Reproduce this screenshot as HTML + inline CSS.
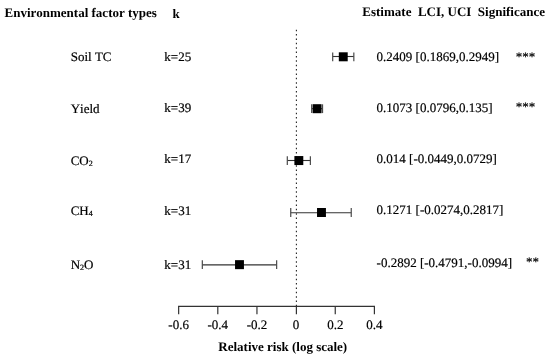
<!DOCTYPE html><html><head><meta charset="utf-8"><style>html,body{margin:0;padding:0;background:#fff;}svg{display:block;}text{font-family:"Liberation Serif",serif;fill:#000;stroke:#000;stroke-width:0.2px;text-rendering:geometricPrecision;font-variant-ligatures:none;font-kerning:none;stroke-linejoin:round;}text.b{stroke:none;}</style></head><body>
<svg width="550" height="360" viewBox="0 0 550 360">
<rect width="550" height="360" fill="#fff"/>
<text x="4.5" y="17.4" font-size="13" font-weight="bold" class="b">Environmental factor types</text>
<text x="172.6" y="17.6" font-size="13" font-weight="bold" class="b">k</text>
<text x="362.3" y="16.1" font-size="13" font-weight="bold" class="b" style="white-space:pre">Estimate  LCI, UCI  Significance</text>
<line x1="296.4" y1="29.75" x2="296.4" y2="306" stroke="#222" stroke-width="1.1" stroke-dasharray="1.5 2.867"/>
<line x1="178.05000000000004" y1="306.4" x2="375.00000000000006" y2="306.4" stroke="#333" stroke-width="1.2"/>
<line x1="178.65" y1="306.4" x2="178.65" y2="314.3" stroke="#333" stroke-width="1.2"/>
<text x="178.65" y="329.2" font-size="13" text-anchor="middle">-0.6</text>
<line x1="217.80" y1="306.4" x2="217.80" y2="314.3" stroke="#333" stroke-width="1.2"/>
<text x="217.80" y="329.2" font-size="13" text-anchor="middle">-0.4</text>
<line x1="256.95" y1="306.4" x2="256.95" y2="314.3" stroke="#333" stroke-width="1.2"/>
<text x="256.95" y="329.2" font-size="13" text-anchor="middle">-0.2</text>
<line x1="296.40" y1="306.4" x2="296.40" y2="314.3" stroke="#333" stroke-width="1.2"/>
<text x="296.10" y="329.2" font-size="13" text-anchor="middle">0</text>
<line x1="335.25" y1="306.4" x2="335.25" y2="314.3" stroke="#333" stroke-width="1.2"/>
<text x="335.25" y="329.2" font-size="13" text-anchor="middle">0.2</text>
<line x1="374.40" y1="306.4" x2="374.40" y2="314.3" stroke="#333" stroke-width="1.2"/>
<text x="374.40" y="329.2" font-size="13" text-anchor="middle">0.4</text>
<text x="218.3" y="351.4" font-size="13" font-weight="bold" class="b">Relative risk (log scale)</text>
<text x="70.7" y="60.6" font-size="13">Soil TC</text>
<text x="164.3" y="60.8" font-size="13">k=25</text>
<text x="376.6" y="60.9" font-size="13">0.2409 [0.1869,0.2949]</text>
<text x="515.8" y="60.50" font-size="13">***</text>
<line x1="332.69" y1="56.5" x2="353.83" y2="56.5" stroke="#333" stroke-width="1.1"/>
<line x1="332.69" y1="52.40" x2="332.69" y2="61.20" stroke="#4a4a4a" stroke-width="1.2"/>
<line x1="353.83" y1="52.40" x2="353.83" y2="61.20" stroke="#4a4a4a" stroke-width="1.2"/>
<rect x="338.81" y="52.30" width="8.9" height="9" fill="#000"/>
<text x="70.7" y="112.6" font-size="13">Yield</text>
<text x="164.3" y="111.8" font-size="13">k=39</text>
<text x="376.6" y="111.6" font-size="13">0.1073 [0.0796,0.135]</text>
<text x="515.8" y="111.20" font-size="13">***</text>
<line x1="311.68" y1="108.7" x2="322.53" y2="108.7" stroke="#333" stroke-width="1.1"/>
<line x1="311.68" y1="104.30" x2="311.68" y2="113.10" stroke="#4a4a4a" stroke-width="1.2"/>
<line x1="322.53" y1="104.30" x2="322.53" y2="113.10" stroke="#4a4a4a" stroke-width="1.2"/>
<rect x="312.65" y="104.20" width="8.9" height="9" fill="#000"/>
<text x="70.7" y="164.5" font-size="13">CO<tspan font-size='8' dy='1.3'>2</tspan></text>
<text x="164.3" y="162.8" font-size="13">k=17</text>
<text x="376.6" y="163.0" font-size="13">0.014 [-0.0449,0.0729]</text>
<line x1="287.31" y1="160.5" x2="310.37" y2="160.5" stroke="#333" stroke-width="1.1"/>
<line x1="287.31" y1="156.15" x2="287.31" y2="164.95" stroke="#4a4a4a" stroke-width="1.2"/>
<line x1="310.37" y1="156.15" x2="310.37" y2="164.95" stroke="#4a4a4a" stroke-width="1.2"/>
<rect x="294.39" y="156.05" width="8.9" height="9" fill="#000"/>
<text x="70.7" y="215.0" font-size="13">CH<tspan font-size='8' dy='1.3'>4</tspan></text>
<text x="164.3" y="214.8" font-size="13">k=31</text>
<text x="376.6" y="213.8" font-size="13">0.1271 [-0.0274,0.2817]</text>
<line x1="290.74" y1="212.8" x2="351.24" y2="212.8" stroke="#333" stroke-width="1.1"/>
<line x1="290.74" y1="208.10" x2="290.74" y2="216.90" stroke="#4a4a4a" stroke-width="1.2"/>
<line x1="351.24" y1="208.10" x2="351.24" y2="216.90" stroke="#4a4a4a" stroke-width="1.2"/>
<rect x="317.03" y="208.00" width="8.9" height="9" fill="#000"/>
<text x="70.7" y="268.7" font-size="13">N<tspan font-size='8' dy='1.3'>2</tspan><tspan dy='-1.3'>O</tspan></text>
<text x="164.3" y="268.9" font-size="13">k=31</text>
<text x="376.6" y="266.8" font-size="13">-0.2892 [-0.4791,-0.0994]</text>
<text x="526.0" y="266.10" font-size="13">**</text>
<line x1="202.32" y1="264.9" x2="276.64" y2="264.9" stroke="#333" stroke-width="1.1"/>
<line x1="202.32" y1="260.25" x2="202.32" y2="269.05" stroke="#4a4a4a" stroke-width="1.2"/>
<line x1="276.64" y1="260.25" x2="276.64" y2="269.05" stroke="#4a4a4a" stroke-width="1.2"/>
<rect x="235.04" y="260.15" width="8.9" height="9" fill="#000"/>
</svg></body></html>
